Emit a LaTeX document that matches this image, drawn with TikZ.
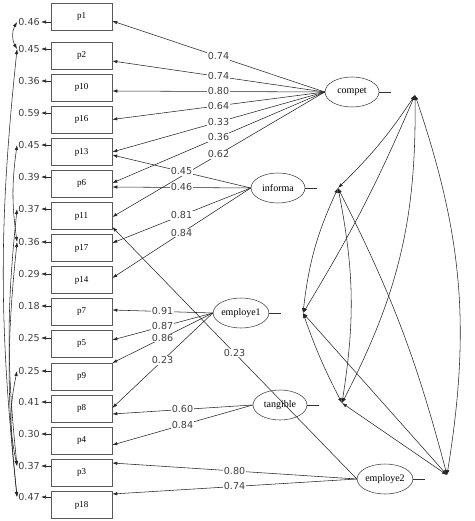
\documentclass[tikz,border=0pt]{standalone}
\usepackage{fontspec}
\setmainfont{Liberation Serif}
\newfontfamily\numfont{DejaVu Sans}
\usetikzlibrary{shapes.geometric, arrows.meta}

\begin{document}
\begin{tikzpicture}[x=1pt, y=-1pt, line width=0.55pt]
        \tikzstyle{item} = [rectangle, draw=black!65, minimum width=61pt, minimum height=27pt, inner sep=0pt, font=\fontsize{9}{10}\selectfont]
        \tikzstyle{factor} = [ellipse, draw=black!75, minimum width=54pt, minimum height=30pt, inner sep=0pt, font=\fontsize{10}{11}\selectfont]
        \tikzstyle{loading} = [-{Latex[length=5pt, width=3.4pt]}, black!85]
        \tikzstyle{covar} = [{Latex[length=5pt, width=3.4pt]}-{Latex[length=5pt, width=3.4pt]}, black!85]
        \tikzstyle{coef} = [midway, fill=white, inner sep=0.6pt, text=black!75, font=\numfont\fontsize{9.6}{10}\selectfont]
        \tikzstyle{errlab} = [anchor=east, inner sep=1pt, text=black!75, font=\numfont\fontsize{9.6}{10}\selectfont]

\useasboundingbox (0,0) rectangle (474,521);

% observed items
        \node[item] (p1) at (81.5,16.5) {p1};
        \node[item] (p2) at (81.5,55.5) {p2};
        \node[item] (p10) at (81.5,87.5) {p10};
        \node[item] (p16) at (81.5,119.5) {p16};
        \node[item] (p13) at (81.5,152) {p13};
        \node[item] (p6) at (81.5,183.5) {p6};
        \node[item] (p11) at (81.5,216) {p11};
        \node[item] (p17) at (81.5,248) {p17};
        \node[item] (p14) at (81.5,280) {p14};
        \node[item] (p7) at (81.5,312) {p7};
        \node[item] (p5) at (81.5,344) {p5};
        \node[item] (p9) at (81.5,376.5) {p9};
        \node[item] (p8) at (81.5,408.5) {p8};
        \node[item] (p4) at (81.5,440.5) {p4};
        \node[item] (p3) at (81.5,472.5) {p3};
        \node[item] (p18) at (81.5,505) {p18};

% error variances
        \node[errlab] (e1) at (41,22) {0.46};
        \node[errlab] (e2) at (41,49) {0.45};
        \node[errlab] (e10) at (41,81) {0.36};
        \node[errlab] (e16) at (41,113) {0.59};
        \node[errlab] (e13) at (41,145) {0.45};
        \node[errlab] (e6) at (41,177) {0.39};
        \node[errlab] (e11) at (41,209) {0.37};
        \node[errlab] (e17) at (41,242) {0.36};
        \node[errlab] (e14) at (41,274) {0.29};
        \node[errlab] (e7) at (41,306) {0.18};
        \node[errlab] (e5) at (41,338) {0.25};
        \node[errlab] (e9) at (41,371) {0.25};
        \node[errlab] (e8) at (41,402) {0.41};
        \node[errlab] (e4) at (41,434) {0.30};
        \node[errlab] (e3) at (41,466) {0.37};
        \node[errlab] (e18) at (41,497) {0.47};

\draw[loading] (p1.west |- e1) -- (e1);
        \draw[loading] (p2.west |- e2) -- (e2);
        \draw[loading] (p10.west |- e10) -- (e10);
        \draw[loading] (p16.west |- e16) -- (e16);
        \draw[loading] (p13.west |- e13) -- (e13);
        \draw[loading] (p6.west |- e6) -- (e6);
        \draw[loading] (p11.west |- e11) -- (e11);
        \draw[loading] (p17.west |- e17) -- (e17);
        \draw[loading] (p14.west |- e14) -- (e14);
        \draw[loading] (p7.west |- e7) -- (e7);
        \draw[loading] (p5.west |- e5) -- (e5);
        \draw[loading] (p9.west |- e9) -- (e9);
        \draw[loading] (p8.west |- e8) -- (e8);
        \draw[loading] (p4.west |- e4) -- (e4);
        \draw[loading] (p3.west |- e3) -- (e3);
        \draw[loading] (p18.west |- e18) -- (e18);

% correlated errors
        \draw[covar] (e1.west) to[bend right=30] (e2.west);
        \draw[covar] (e2.west) to[bend right=6] (e18.west);
        \draw[covar] (e13.west) to[bend right=8] (e17.west);
        \draw[covar] (e11.west) to[bend right=6] (e3.west);
        \draw[covar] (e17.west) to[bend right=6] (e18.west);
        \draw[covar] (e9.west) to[bend right=12] (e3.west);

% latent factors
        \node[factor] (compet) at (352,92) {compet};
        \node[factor] (informa) at (278,188) {informa};
        \node[factor] (employe1) at (241,313) {employe1};
        \node[factor] (tangible) at (280,405) {tangible};
        \node[factor] (employe2) at (385,479) {employe2};

\draw[black!80] (compet.east) -- ++(12,0);
        \draw[black!80] (informa.east) -- ++(12,0);
        \draw[black!80] (employe1.east) -- ++(12,0);
        \draw[black!80] (tangible.east) -- ++(12,0);
        \draw[black!80] (employe2.east) -- ++(12,0);

% loadings
        \draw[loading] (compet.west) -- node[coef] {0.74} ([yshift=-4.5pt]p1.east);
        \draw[loading] (compet.west) -- node[coef] {0.74} ([yshift=-5.5pt]p2.east);
        \draw[loading] (compet.west) -- node[coef] {0.80} ([yshift=-3.5pt]p10.east);
        \draw[loading] (compet.west) -- node[coef] {0.64} (p16.east);
        \draw[loading] (compet.west) -- node[coef] {0.33} (p13.east);
        \draw[loading] (compet.west) -- node[coef] {0.36} ([yshift=0.5pt]p6.east);
        \draw[loading] (compet.west) -- node[coef] {0.62} ([yshift=-1pt]p11.east);
        \draw[loading] (informa.west) -- node[coef] {0.45} ([yshift=-3pt]p13.east);
        \draw[loading] (informa.west) -- node[coef] {0.46} ([yshift=-3.5pt]p6.east);
        \draw[loading] (informa.west) -- node[coef] {0.81} ([yshift=5pt]p17.east);
        \draw[loading] (informa.west) -- node[coef] {0.84} ([yshift=2pt]p14.east);
        \draw[loading] (employe1.west) -- node[coef] {0.91} ([yshift=2pt]p7.east);
        \draw[loading] (employe1.west) -- node[coef] {0.87} ([yshift=4pt]p5.east);
        \draw[loading] (employe1.west) -- node[coef] {0.86} ([yshift=13.5pt]p9.east);
        \draw[loading] (employe1.west) -- node[coef] {0.23} ([yshift=0.5pt]p8.east);
        \draw[loading] (tangible.west) -- node[coef] {0.60} ([yshift=-5.5pt]p8.east);
        \draw[loading] (tangible.west) -- node[coef] {0.84} ([yshift=-4.5pt]p4.east);
        \draw[loading] (employe2.west) -- node[coef] {0.80} ([yshift=9.5pt]p3.east);
        \draw[loading] (employe2.west) -- node[coef] {0.74} ([yshift=11pt]p18.east);
        \draw[loading] (employe2.west) -- node[coef] {0.23} ([yshift=-11pt]p11.east);

% factor correlations
        \coordinate (kc) at (415,95);
        \coordinate (ki) at (338,188);
        \coordinate (ke1) at (303,313);
        \coordinate (kt) at (342,403);
        \coordinate (ke2) at (447,475);

\draw[covar] (kc) to[bend left=6] (ki);
        \draw[covar] (kc) to[bend left=4] (ke1);
        \draw[covar] (kc) to[bend left=14] (kt);
        \draw[covar] (kc) to[bend left=14] (ke2);
        \draw[covar] (ki) to[bend right=9] (ke1);
        \draw[covar] (ki) to[bend left=10] (kt);
        \draw[covar] (ki) to[bend left=6] (ke2);
        \draw[covar] (ke1) to[bend right=4] (kt);
        \draw[covar] (ke1) -- (ke2);
        \draw[covar] (kt) -- (ke2);

    \end{tikzpicture}
\end{document}
